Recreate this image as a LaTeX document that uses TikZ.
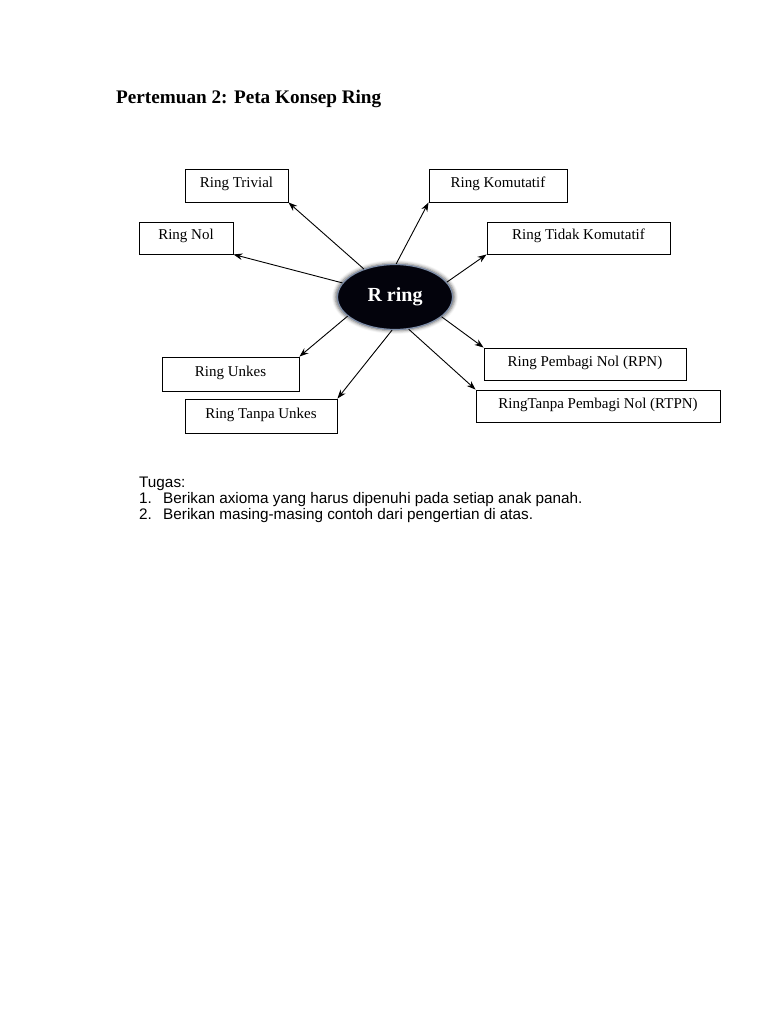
\documentclass[tikz,border=0pt]{standalone}
\usepackage{fontspec}
\setmainfont{Liberation Serif}
\newfontfamily\arialfont{Liberation Sans}
\usetikzlibrary{shapes.geometric,arrows.meta,shadows.blur}
\definecolor{glow}{HTML}{7F8FAA}
\definecolor{ringfill}{HTML}{03030C}
\begin{document}
\begin{tikzpicture}[x=1pt,y=-1pt,
  conceptbox/.style={draw=black,line width=0.9pt,inner sep=0pt,
    font=\fontsize{15}{17}\selectfont,text height=7pt,text depth=3pt},
  link/.style={line width=0.9pt,-{Stealth[length=9pt,width=6.5pt]}},
  tasktext/.style={anchor=base west,inner sep=0pt,font=\arialfont\fontsize{15.3}{17}\selectfont}]
\useasboundingbox (0,0) rectangle (768,1024);

\node[anchor=base west,inner sep=0pt,font=\bfseries\fontsize{19.2}{22}\selectfont] (title) at (116,104) {Pertemuan 2: Peta Konsep Ring};

\node[ellipse,draw=glow,line width=1.2pt,fill=ringfill,minimum width=115pt,minimum height=65pt,inner sep=0pt,
  blur shadow={shadow xshift=0pt,shadow yshift=0pt,shadow scale=1.04,shadow blur radius=3pt,shadow opacity=55},
  text=white,font=\bfseries\fontsize{20}{22}\selectfont] (R) at (395,297) {R ring};

\node[conceptbox,minimum width=103pt,minimum height=33pt] (triv) at (236.5,185.5) {Ring Trivial};
\node[conceptbox,minimum width=138pt,minimum height=33pt] (kom) at (498,185.5) {Ring Komutatif};
\node[conceptbox,minimum width=94pt,minimum height=32pt] (nol) at (186,238) {Ring Nol};
\node[conceptbox,minimum width=183pt,minimum height=32pt] (tidak) at (578.5,238) {Ring Tidak Komutatif};
\node[conceptbox,minimum width=137pt,minimum height=34pt] (unkes) at (230.5,374) {Ring Unkes};
\node[conceptbox,minimum width=152pt,minimum height=34pt] (tanpa) at (261,416) {Ring Tanpa Unkes};
\node[conceptbox,minimum width=202pt,minimum height=32pt] (rpn) at (585,364) {Ring Pembagi Nol (RPN)};
\node[conceptbox,minimum width=244pt,minimum height=32pt] (rtpn) at (598,406) {RingTanpa Pembagi Nol (RTPN)};

\draw[link] (R.138.7) -- (triv.south east);
\draw[link] (R.165.5) -- (nol.south east);
\draw[link] (R.88) -- (kom.south west);
\draw[link] (R.16) -- (tidak.south west);
\draw[link] (R.202.6) -- (unkes.north east);
\draw[link] (R.265) -- (tanpa.north east);
\draw[link] (R.337.4) -- (rpn.north west);
\draw[link] (R.293.6) -- (rtpn.north west);

\node[tasktext] (tugas) at (139,487) {Tugas:};
\node[tasktext] (n1) at (139,503) {1.};
\node[tasktext] (t1) at (163,503) {Berikan axioma yang harus dipenuhi pada setiap anak panah.};
\node[tasktext] (n2) at (139,519) {2.};
\node[tasktext] (t2) at (163,519) {Berikan masing-masing contoh dari pengertian di atas.};
\end{tikzpicture}
\end{document}
